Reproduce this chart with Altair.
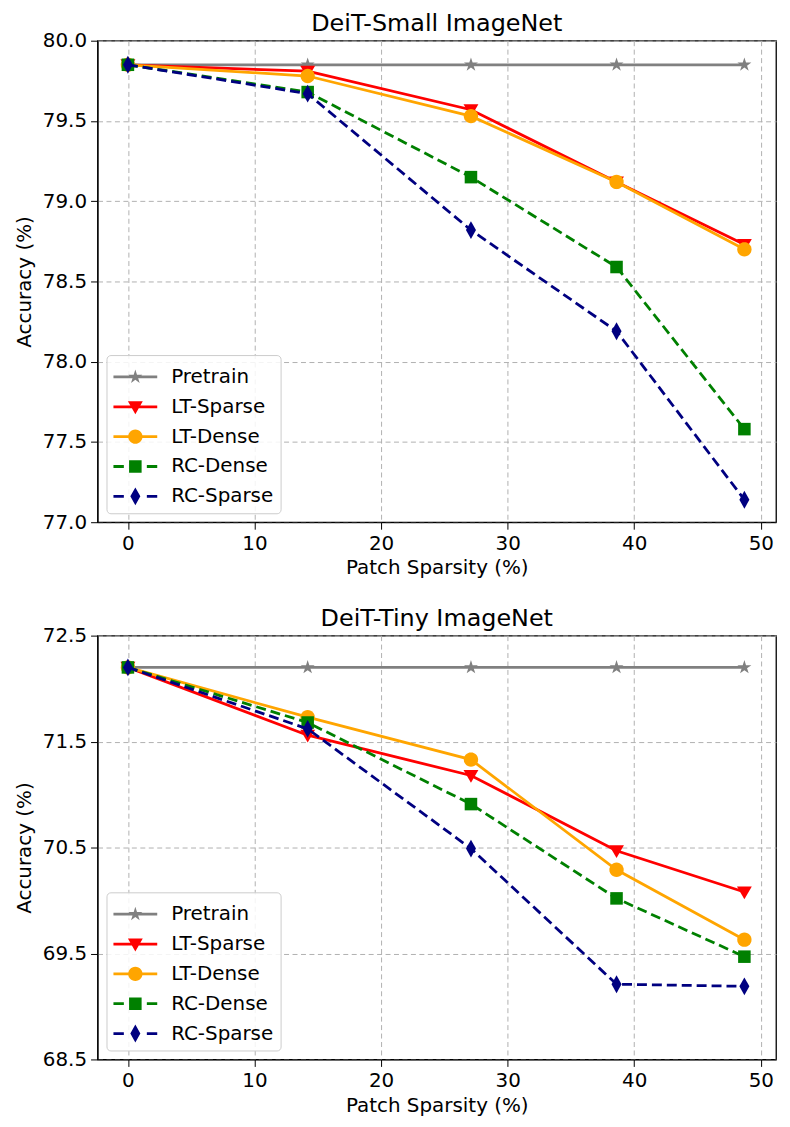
import math
import altair as alt
import pandas as pd

# ---------------- data ----------------
sparsity = [0, 14.2, 27.1, 38.6, 48.7]
series = ["Pretrain", "LT-Sparse", "LT-Dense", "RC-Dense", "RC-Sparse"]

small_pretrain = [79.85, 79.85, 79.85, 79.85, 79.85]
small_lt_sparse = [79.85, 79.81, 79.57, 79.12, 78.73]
small_lt_dense = [79.85, 79.78, 79.53, 79.12, 78.70]
small_rc_dense = [79.85, 79.68, 79.15, 78.59, 77.58]
small_rc_sparse = [79.85, 79.67, 78.82, 78.19, 77.14]

tiny_pretrain = [72.2, 72.2, 72.2, 72.2, 72.2]
tiny_lt_sparse = [72.2, 71.56, 71.18, 70.47, 70.08]
tiny_lt_dense = [72.2, 71.73, 71.33, 70.29, 69.63]
tiny_rc_dense = [72.2, 71.68, 70.91, 70.02, 69.47]
tiny_rc_sparse = [72.2, 71.62, 70.49, 69.21, 69.19]

small_ticks = [77.0, 77.5, 78.0, 78.5, 79.0, 79.5, 80.0]
tiny_ticks = [68.5, 69.5, 70.5, 71.5, 72.5]
x_ticks = [0, 10, 20, 30, 40, 50]

colors = ["#808080", "#ff0000", "#ffa500", "#008000", "#000080"]
dashed = [False, False, False, True, True]

FONT = "DejaVu Sans"
W = 682


# ---------------- marker shapes ----------------
def orient(pts):
    a = 0.0
    for i in range(len(pts)):
        x1, y1 = pts[i]
        x2, y2 = pts[(i + 1) % len(pts)]
        a += x1 * y2 - x2 * y1
    return pts if a > 0 else pts[::-1]


def poly(pts):
    pts = orient(pts)
    return "M" + " L".join(f"{x:.3f},{y:.3f}" for x, y in pts) + " Z"


def star(R=0.82, r=0.82 * 0.382):
    pts = []
    for k in range(10):
        a = -math.pi / 2 + k * math.pi / 5
        rr = R if k % 2 == 0 else r
        pts.append((rr * math.cos(a), rr * math.sin(a)))
    return pts


def circle(r=0.8, n=28):
    return [(r * math.cos(2 * math.pi * k / n), r * math.sin(2 * math.pi * k / n)) for k in range(n)]


markers = [
    star(),
    [(-0.83, -0.62), (0.83, -0.62), (0.0, 0.82)],
    circle(),
    [(-0.7, -0.7), (0.7, -0.7), (0.7, 0.7), (-0.7, 0.7)],
    [(0.0, -1.0), (0.56, 0.0), (0.0, 1.0), (-0.56, 0.0)],
]
marker_paths = [poly(m) for m in markers]

# legend symbols: line + marker (units of 15 px, symbol size 900)
LS = 0.6      # marker scale in legend units
HL = 1.467    # half length of the line
HT = 0.093    # half thickness of the line


def rect(x0, x1):
    return [(x0, -HT), (x1, -HT), (x1, HT), (x0, HT)]


legend_paths = []
for m, d in zip(markers, dashed):
    mk = poly([(x * LS, y * LS) for x, y in m])
    if d:
        ln = poly(rect(-HL, -0.77)) + " " + poly(rect(0.77, HL))
    else:
        ln = poly(rect(-HL, HL))
    legend_paths.append(ln + " " + mk)


def make_panel(title, values, ydomain, yticks, height):
    rows = []
    for name, vals in zip(series, values):
        for xv, yv in zip(sparsity, vals):
            rows.append({"series": name, "x": xv, "y": yv})
    df = pd.DataFrame(rows)

    xenc = alt.X("x:Q", scale=alt.Scale(domain=[-2.4, 51.2], nice=False, zero=False),
                 axis=alt.Axis(values=x_ticks, title="Patch Sparsity (%)", format="d"))
    yenc = alt.Y("y:Q", scale=alt.Scale(domain=ydomain, nice=False, zero=False),
                 axis=alt.Axis(values=yticks, title="Accuracy (%)", format=".1f"))

    layers = []
    for i, name in enumerate(series):
        sub = df[df["series"] == name]
        line_kw = dict(color=colors[i], strokeWidth=2.8, clip=False)
        if dashed[i]:
            line_kw["strokeDash"] = [10, 5]
        layers.append(alt.Chart(sub).mark_line(**line_kw).encode(x=xenc, y=yenc))
        layers.append(
            alt.Chart(sub).mark_point(shape=marker_paths[i], filled=True, size=324,
                                      color=colors[i], opacity=1, strokeWidth=0)
            .encode(x=xenc, y=yenc)
        )

    leg = alt.Legend(title=None, orient="bottom-left", offset=9, symbolSize=900,
                     symbolOffset=7, labelOffset=21, rowPadding=5, padding=7,
                     labelFont=FONT, labelFontSize=20, labelColor="black",
                     fillColor="rgba(255,255,255,0.85)", strokeColor="#cccccc",
                     cornerRadius=4, symbolOpacity=1, symbolStrokeWidth=0)
    legend_layer = (
        alt.Chart(df).transform_filter("datum.x < -100")
        .mark_point(filled=True, opacity=1)
        .encode(
            x=xenc, y=yenc,
            color=alt.Color("series:N", scale=alt.Scale(domain=series, range=colors), legend=leg),
            shape=alt.Shape("series:N", scale=alt.Scale(domain=series, range=legend_paths), legend=leg),
        )
    )
    layers.append(legend_layer)

    return alt.layer(*layers).properties(
        width=W, height=height,
        title=alt.TitleParams(title, fontSize=24, fontWeight="normal", font=FONT,
                              color="black", offset=-5),
    )


top = make_panel("DeiT-Small ImageNet",
                 [small_pretrain, small_lt_sparse, small_lt_dense, small_rc_dense, small_rc_sparse],
                 [77.0, 80.0], small_ticks, 484)
bottom = make_panel("DeiT-Tiny ImageNet",
                    [tiny_pretrain, tiny_lt_sparse, tiny_lt_dense, tiny_rc_dense, tiny_rc_sparse],
                    [68.5, 72.5], tiny_ticks, 426)

chart = (
    alt.vconcat(top, bottom, spacing=27)
    .resolve_scale(color="independent", shape="independent")
    .resolve_legend(color="independent", shape="independent")
    .properties(padding={"left": 5, "top": 0, "right": 5, "bottom": 0})
    .configure_view(stroke="black", strokeWidth=1.3)
    .configure_axis(
        labelFont=FONT, titleFont=FONT, labelFontSize=20, titleFontSize=20,
        titleFontWeight="normal", labelColor="black", titleColor="black",
        domainColor="black", tickColor="black", tickSize=7, labelPadding=4,
        grid=True, gridColor="#b0b0b0", gridDash=[5, 3.5], gridWidth=1,
    )
    .configure_axisY(titlePadding=8)
    .configure_axisX(titlePadding=5)
)

chart.save("out.html", embed_options={"renderer": "svg", "actions": False})
